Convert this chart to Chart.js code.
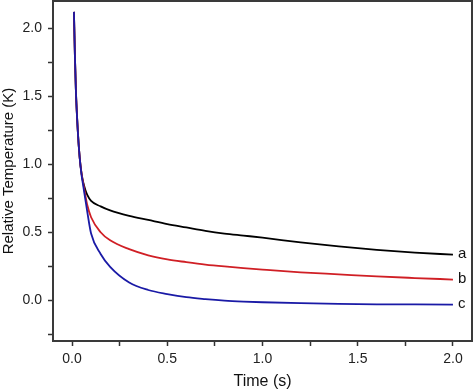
<!DOCTYPE html>
<html>
<head>
<meta charset="utf-8">
<script src="https://cdn.jsdelivr.net/npm/chart.js@4/dist/chart.umd.min.js"></script>
<style>
    html, body { margin: 0; padding: 0; background: #fff; }
    #wrap { width: 474px; height: 391px; position: relative; }
</style>
</head>
<body>
<div id="wrap"><canvas id="chart"></canvas></div>
<script>
// Time axis (s) shared by the three curves
const times = [0.01, 0.015, 0.02, 0.03, 0.04, 0.05, 0.06, 0.07, 0.08, 0.1, 0.15, 0.2, 0.3, 0.4, 0.5, 0.6, 0.7, 0.8, 0.9, 1.0, 1.2, 1.4, 1.6, 1.8, 2.0];

// Relative temperature (K)
const curveA = [2.12, 1.80, 1.55, 1.25, 1.05, 0.93, 0.86, 0.81, 0.775, 0.73, 0.69, 0.66, 0.62, 0.59, 0.56, 0.535, 0.51, 0.49, 0.475, 0.46, 0.425, 0.395, 0.37, 0.35, 0.335];
const curveB = [2.12, 1.80, 1.55, 1.25, 1.05, 0.93, 0.85, 0.77, 0.70, 0.61, 0.50, 0.44, 0.375, 0.33, 0.30, 0.28, 0.262, 0.248, 0.236, 0.225, 0.205, 0.19, 0.175, 0.163, 0.152];
const curveC = [2.12, 1.80, 1.55, 1.25, 1.05, 0.92, 0.83, 0.74, 0.65, 0.49, 0.34, 0.245, 0.13, 0.075, 0.045, 0.022, 0.008, -0.003, -0.01, -0.015, -0.022, -0.027, -0.03, -0.031, -0.032];

const curveLabels = ['a', 'b', 'c'];
const xTickValues = [0, 0.5, 1.0, 1.5, 2.0];
const yTickValues = [0, 0.5, 1.0, 1.5, 2.0];

function toPoints(values) {
    return times.map((t, i) => ({ x: t, y: values[i] }));
}

// major + minor ticks every 0.25 inside the axis range
function quarterTicks(scale) {
    const ticks = [];
    const first = Math.ceil(scale.min * 4 - 1e-6);
    const last = Math.floor(scale.max * 4 + 1e-6);
    for (let k = first; k <= last; k++) {
        ticks.push({ value: k / 4 });
    }
    scale.ticks = ticks;
}

function majorLabel(values) {
    return function(value) {
        return values.some(v => Math.abs(v - value) < 1e-6) ? value.toFixed(1) : '';
    };
}

// frame around the plot and curve labels at the right end
const framePlugin = {
    id: 'frame',
    afterDatasetsDraw(chart) {
        const ctx = chart.ctx;
        const area = chart.chartArea;
        ctx.save();
        ctx.fillStyle = '#111';
        ctx.font = '15px "Liberation Sans", Arial, sans-serif';
        ctx.textBaseline = 'middle';
        chart.data.datasets.forEach((ds, i) => {
            const meta = chart.getDatasetMeta(i);
            const last = meta.data[meta.data.length - 1];
            ctx.fillText(curveLabels[i], last.x + 5, last.y - 1);
        });
        ctx.strokeStyle = '#3a3a3a';
        ctx.lineWidth = 2;
        ctx.strokeRect(area.left, area.top, area.right - area.left, area.bottom - area.top);
        ctx.restore();
    }
};

const tickFont = { family: '"Liberation Sans", Arial, sans-serif', size: 14 };
const titleFont = { family: '"Liberation Sans", Arial, sans-serif', size: 16 };

new Chart(document.getElementById('chart'), {
    type: 'line',
    data: {
        datasets: [
            { label: 'a', data: toPoints(curveA), borderColor: '#000000', order: 2 },
            { label: 'b', data: toPoints(curveB), borderColor: '#d01f25', order: 1 },
            { label: 'c', data: toPoints(curveC), borderColor: '#1a1aa6', order: 0 }
        ]
    },
    options: {
        responsive: true,
        maintainAspectRatio: false,
        animation: false,
        layout: { padding: { top: 1, right: 2 } },
        elements: {
            line: { borderWidth: 1.8, cubicInterpolationMode: 'monotone', fill: false },
            point: { radius: 0 }
        },
        plugins: {
            legend: { display: false },
            tooltip: { enabled: false }
        },
        scales: {
            x: {
                type: 'linear',
                min: -0.1,
                max: 2.1,
                afterBuildTicks: quarterTicks,
                afterFit: function(scale) {
                    scale.height = 50;
                    scale.paddingLeft = 0;
                    scale.paddingRight = 0;
                },
                ticks: {
                    autoSkip: false,
                    maxRotation: 0,
                    padding: 5,
                    color: '#222',
                    font: tickFont,
                    callback: majorLabel(xTickValues)
                },
                grid: { drawOnChartArea: false, drawTicks: true, tickLength: 5, color: '#333', tickWidth: 1.5 },
                border: { display: true, color: '#3a3a3a', width: 2 },
                title: { display: true, text: 'Time (s)', color: '#111', font: titleFont, padding: 0 }
            },
            y: {
                type: 'linear',
                min: -0.3,
                max: 2.2,
                afterBuildTicks: quarterTicks,
                afterFit: function(scale) {
                    scale.width = 53;
                    scale.paddingTop = 0;
                    scale.paddingBottom = 0;
                },
                ticks: {
                    autoSkip: false,
                    padding: 6,
                    color: '#222',
                    font: tickFont,
                    callback: majorLabel(yTickValues)
                },
                grid: { drawOnChartArea: false, drawTicks: true, tickLength: 5, color: '#333', tickWidth: 1.5 },
                border: { display: true, color: '#3a3a3a', width: 2 },
                title: { display: true, text: 'Relative Temperature (K)', color: '#111', font: { family: titleFont.family, size: 15 }, padding: 0 }
            }
        }
    },
    plugins: [framePlugin]
});
</script>
</body>
</html>
